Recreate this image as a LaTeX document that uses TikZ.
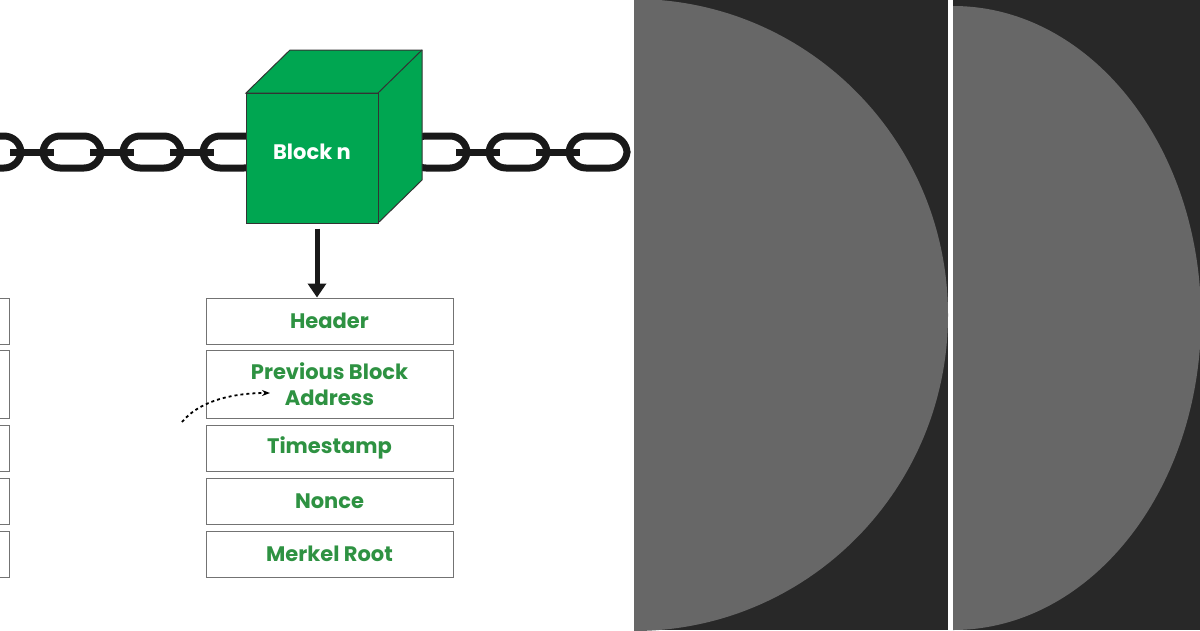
\documentclass[tikz,border=0pt]{standalone}
\usepackage{fontspec}
\setmainfont{Poppins}
\usetikzlibrary{arrows.meta}
\definecolor{cgreen}{RGB}{0,166,81}
\definecolor{tgreen}{RGB}{46,146,66}
\definecolor{dark}{RGB}{40,40,40}
\definecolor{mid}{RGB}{103,103,103}
\begin{document}
\begin{tikzpicture}[x=1pt,y=-1pt,
  link/.style={line width=7pt,draw=black!90,rounded corners=17pt},
  bar/.style={line width=7pt,draw=black!90},
  field/.style={draw=black!55,line width=1pt,minimum width=247pt,align=center,text=tgreen,font=\fontsize{21}{26}\selectfont\bfseries,inner sep=0pt}]
\useasboundingbox (0,0) rectangle (1200,630);
\fill[white] (0,0) rectangle (1200,630);
% dark panels
\fill[dark] (634,0) rectangle (948,630);
\fill[dark] (953,0) rectangle (1200,630);
\begin{scope}
\clip (634,0) rectangle (948,630);
\fill[mid] (634,315) ellipse [x radius=314, y radius=316];
\end{scope}
\begin{scope}
\clip (953,0) rectangle (1200,630);
\fill[mid] (953,318) ellipse [x radius=248, y radius=312];
\end{scope}
% chain
\begin{scope}
\clip (0,0) rectangle (634,630);
\foreach \c in {-8,72,152,232,438,518,598}{
  \draw[link] (\c-29,136) rectangle (\c+29,168);
}
\foreach \c in {32,112,192,478,558}{
  \draw[bar] (\c-22,152) -- (\c+22,152);
}
\end{scope}
% cube
\coordinate (f1) at (246,93);
\coordinate (f2) at (378,93);
\coordinate (f3) at (378,223);
\fill[cgreen,draw=black!80,line width=1pt] (f1) -- ++(44,-43) -- ++(132,0) -- ++(0,130) -- (f3) -- (f2) -- cycle;
\draw[black!80,line width=1pt] (f2) -- ++(44,-43);
\node[fill=cgreen,draw=black!80,line width=1pt,minimum width=132pt,minimum height=130pt,inner sep=0pt,text=white,font=\fontsize{21}{26}\selectfont\bfseries] (cube) at (312,158) {};
\node[text=white,font=\fontsize{21}{26}\selectfont\bfseries] (lbl) at (312,152) {Block n};
% fields
\node[field,minimum height=46pt] (h) at (329.5,321) {Header};
\node[field,minimum height=68pt] (p) at (329.5,384) {Previous Block\\Address};
\node[field,minimum height=46pt] (t) at (329.5,448) {Timestamp};
\node[field,minimum height=46pt] (n) at (329.5,501) {Nonce};
\node[field,minimum height=46pt] (m) at (329.5,554) {Merkel Root};
\draw[-{Triangle[length=14pt,width=18pt]},line width=5pt,black!90] (cube.south) ++(5,5) coordinate (a0) -- (a0 |- h.north);
% left partial boxes
\foreach \ya/\yb in {298/344,350/418,425/471,478/524,531/577}{
  \draw[black!55,line width=1pt] (-5,\ya) rectangle (9,\yb);
}
% dashed arrow
\coordinate (d0) at (182,422);
\coordinate (d1) at (270,393);
\draw[dashed,line width=1.8pt,-{Stealth[length=8pt]}] (d0) .. controls (200,400) and (235,393) .. (d1);
\end{tikzpicture}
\end{document}
